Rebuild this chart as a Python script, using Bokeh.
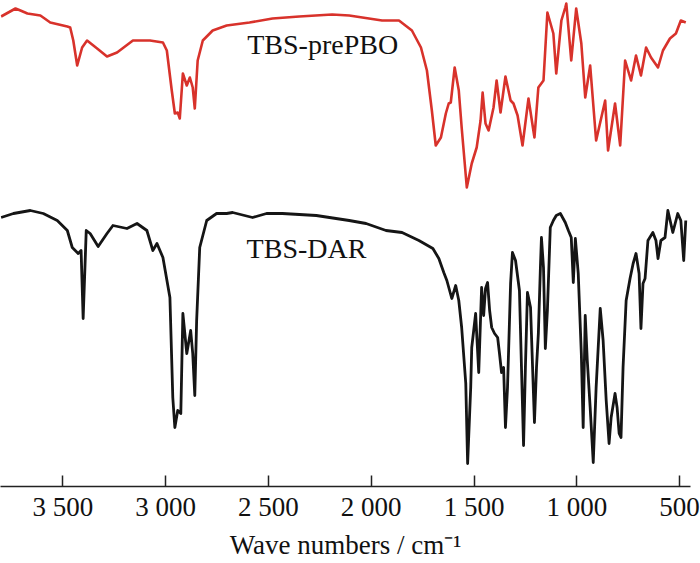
from bokeh.plotting import figure
from bokeh.models import Range1d, FixedTicker, Label
from bokeh.embed import file_html
from bokeh.resources import INLINE

# FT-IR spectra, transmittance in arbitrary units (offset traces)
prepbo_wavenumber = [3800, 3730, 3706, 3672, 3609, 3561, 3478, 3464, 3449, 3430, 3406, 3382,
                     3333, 3285, 3236, 3159, 3076, 3013, 2994, 2970, 2955, 2941, 2931, 2916,
                     2897, 2882, 2868, 2858, 2844, 2819, 2771, 2703, 2592, 2480, 2350, 2190,
                     2107, 1947, 1865, 1802, 1758, 1729, 1705, 1686, 1661, 1637, 1623, 1613,
                     1594, 1574, 1560, 1535, 1511, 1487, 1468, 1458, 1444, 1429, 1405, 1390,
                     1371, 1347, 1322, 1308, 1288, 1264, 1235, 1206, 1187, 1162, 1143, 1114,
                     1100, 1075, 1056, 1051, 1027, 1003, 978, 959, 935, 906, 862, 848, 814,
                     789, 765, 736, 712, 688, 663, 639, 605, 581, 547, 518, 494, 470]
prepbo_transmittance = [470, 478, 476, 473, 471, 464, 460, 459, 446, 421, 439, 446,
                        438, 430, 434, 446, 446, 444, 436, 396, 373, 374, 368, 413,
                        401, 409, 399, 378, 426, 446, 456, 461, 464, 468, 470, 472,
                        471, 466, 466, 456, 439, 416, 376, 341, 349, 373, 383, 384,
                        419, 396, 359, 299, 323, 339, 366, 394, 363, 356, 379, 406,
                        374, 410, 386, 383, 371, 341, 388, 349, 399, 406, 474, 453,
                        413, 466, 479, 483, 426, 478, 443, 389, 421, 346, 386, 336, 383,
                        341, 426, 406, 431, 411, 439, 429, 419, 436, 448, 453, 466, 464]

dar_wavenumber = [3800, 3740, 3658, 3595, 3527, 3478, 3454, 3425, 3411, 3401, 3386, 3367,
                  3328, 3285, 3256, 3188, 3139, 3091, 3062, 3042, 3013, 2979, 2965, 2955,
                  2941, 2926, 2916, 2897, 2878, 2868, 2858, 2849, 2834, 2800, 2752, 2703,
                  2674, 2577, 2509, 2432, 2267, 2107, 2025, 1928, 1850, 1768, 1700, 1671,
                  1647, 1632, 1608, 1589, 1574, 1560, 1540, 1531, 1516, 1511, 1492, 1487,
                  1477, 1463, 1453, 1444, 1434, 1424, 1414, 1400, 1385, 1376, 1366, 1356,
                  1347, 1337, 1322, 1313, 1298, 1279, 1259, 1250, 1240, 1225, 1206, 1196,
                  1187, 1177, 1172, 1162, 1153, 1143, 1129, 1114, 1100, 1080, 1056, 1041,
                  1027, 1017, 1007, 993, 978, 969, 959, 949, 935, 920, 906, 886, 872, 857,
                  843, 833, 814, 804, 794, 785, 775, 760, 741, 726, 712, 697, 688, 678,
                  668, 654, 630, 615, 605, 591, 571, 557, 533, 509, 494, 480, 470]
dar_transmittance = [269, 273, 276, 273, 266, 256, 239, 233, 236, 168, 256, 253,
                     240, 253, 261, 258, 263, 256, 236, 243, 229, 189, 89, 59,
                     76, 73, 173, 133, 156, 133, 91, 166, 239, 266, 273, 273,
                     274, 269, 273, 273, 271, 266, 263, 256, 254, 246, 238, 228,
                     214, 206, 188, 201, 186, 159, 103, 23, 99, 139, 173, 153,
                     114, 199, 171, 198, 204, 176, 159, 153, 149, 133, 114, 119,
                     59, 99, 203, 234, 226, 196, 41, 119, 194, 179, 64, 119,
                     153, 219, 249, 219, 138, 176, 259, 266, 271, 273, 264, 256,
                     249, 204, 248, 213, 133, 59, 171, 126, 79, 24, 99, 178, 146, 86,
                     43, 69, 93, 79, 53, 49, 119, 186, 208, 223, 233, 213, 158, 203,
                     208, 246, 254, 246, 228, 246, 249, 276, 254, 273, 266, 226, 266]

tick_values = [3500, 3000, 2500, 2000, 1500, 1000, 500]
tick_labels = ["3 500", "3 000", "2 500", "2 000", "1 500", "1 000", "500"]

FONT = "Liberation Serif"

p = figure(width=700, height=563, output_backend="svg", toolbar_location=None,
           x_range=Range1d(3803, 447), y_range=Range1d(0, 486),
           min_border_left=0, min_border_right=10, min_border_top=0, min_border_bottom=77)
p.outline_line_color = None
p.xgrid.visible = False
p.ygrid.visible = False
p.yaxis.visible = False
p.background_fill_color = "white"
p.border_fill_color = "white"

p.line(prepbo_wavenumber, prepbo_transmittance, line_color="#d8322b", line_width=2.6,
       line_join="round")
p.line(dar_wavenumber, dar_transmittance, line_color="#151515", line_width=2.8,
       line_join="round")

p.add_layout(Label(x=2603, y=442, text="TBS-prePBO", text_font=FONT, text_font_size="28px",
                   text_baseline="middle", text_align="left", text_color="#111111"))
p.add_layout(Label(x=2606, y=238, text="TBS-DAR", text_font=FONT, text_font_size="28px",
                   text_baseline="middle", text_align="left", text_color="#111111"))

ax = p.xaxis[0]
ax.ticker = FixedTicker(ticks=tick_values)
ax.major_label_overrides = {v: s for v, s in zip(tick_values, tick_labels)}
ax.major_tick_in = 11
ax.major_tick_out = 0
ax.minor_tick_line_color = None
ax.axis_line_width = 1.5
ax.major_tick_line_width = 1.5
ax.axis_line_color = "#222222"
ax.major_tick_line_color = "#222222"
ax.major_label_text_font = FONT
ax.major_label_text_font_size = "27px"
ax.major_label_text_color = "#111111"
ax.major_label_standoff = 5
ax.axis_label = "Wave numbers / cm\u207b\u00b9"
ax.axis_label_text_font = FONT
ax.axis_label_text_font_size = "27px"
ax.axis_label_text_font_style = "normal"
ax.axis_label_text_color = "#111111"
ax.axis_label_standoff = 5

open("out.html", "w").write(file_html(p, INLINE))
